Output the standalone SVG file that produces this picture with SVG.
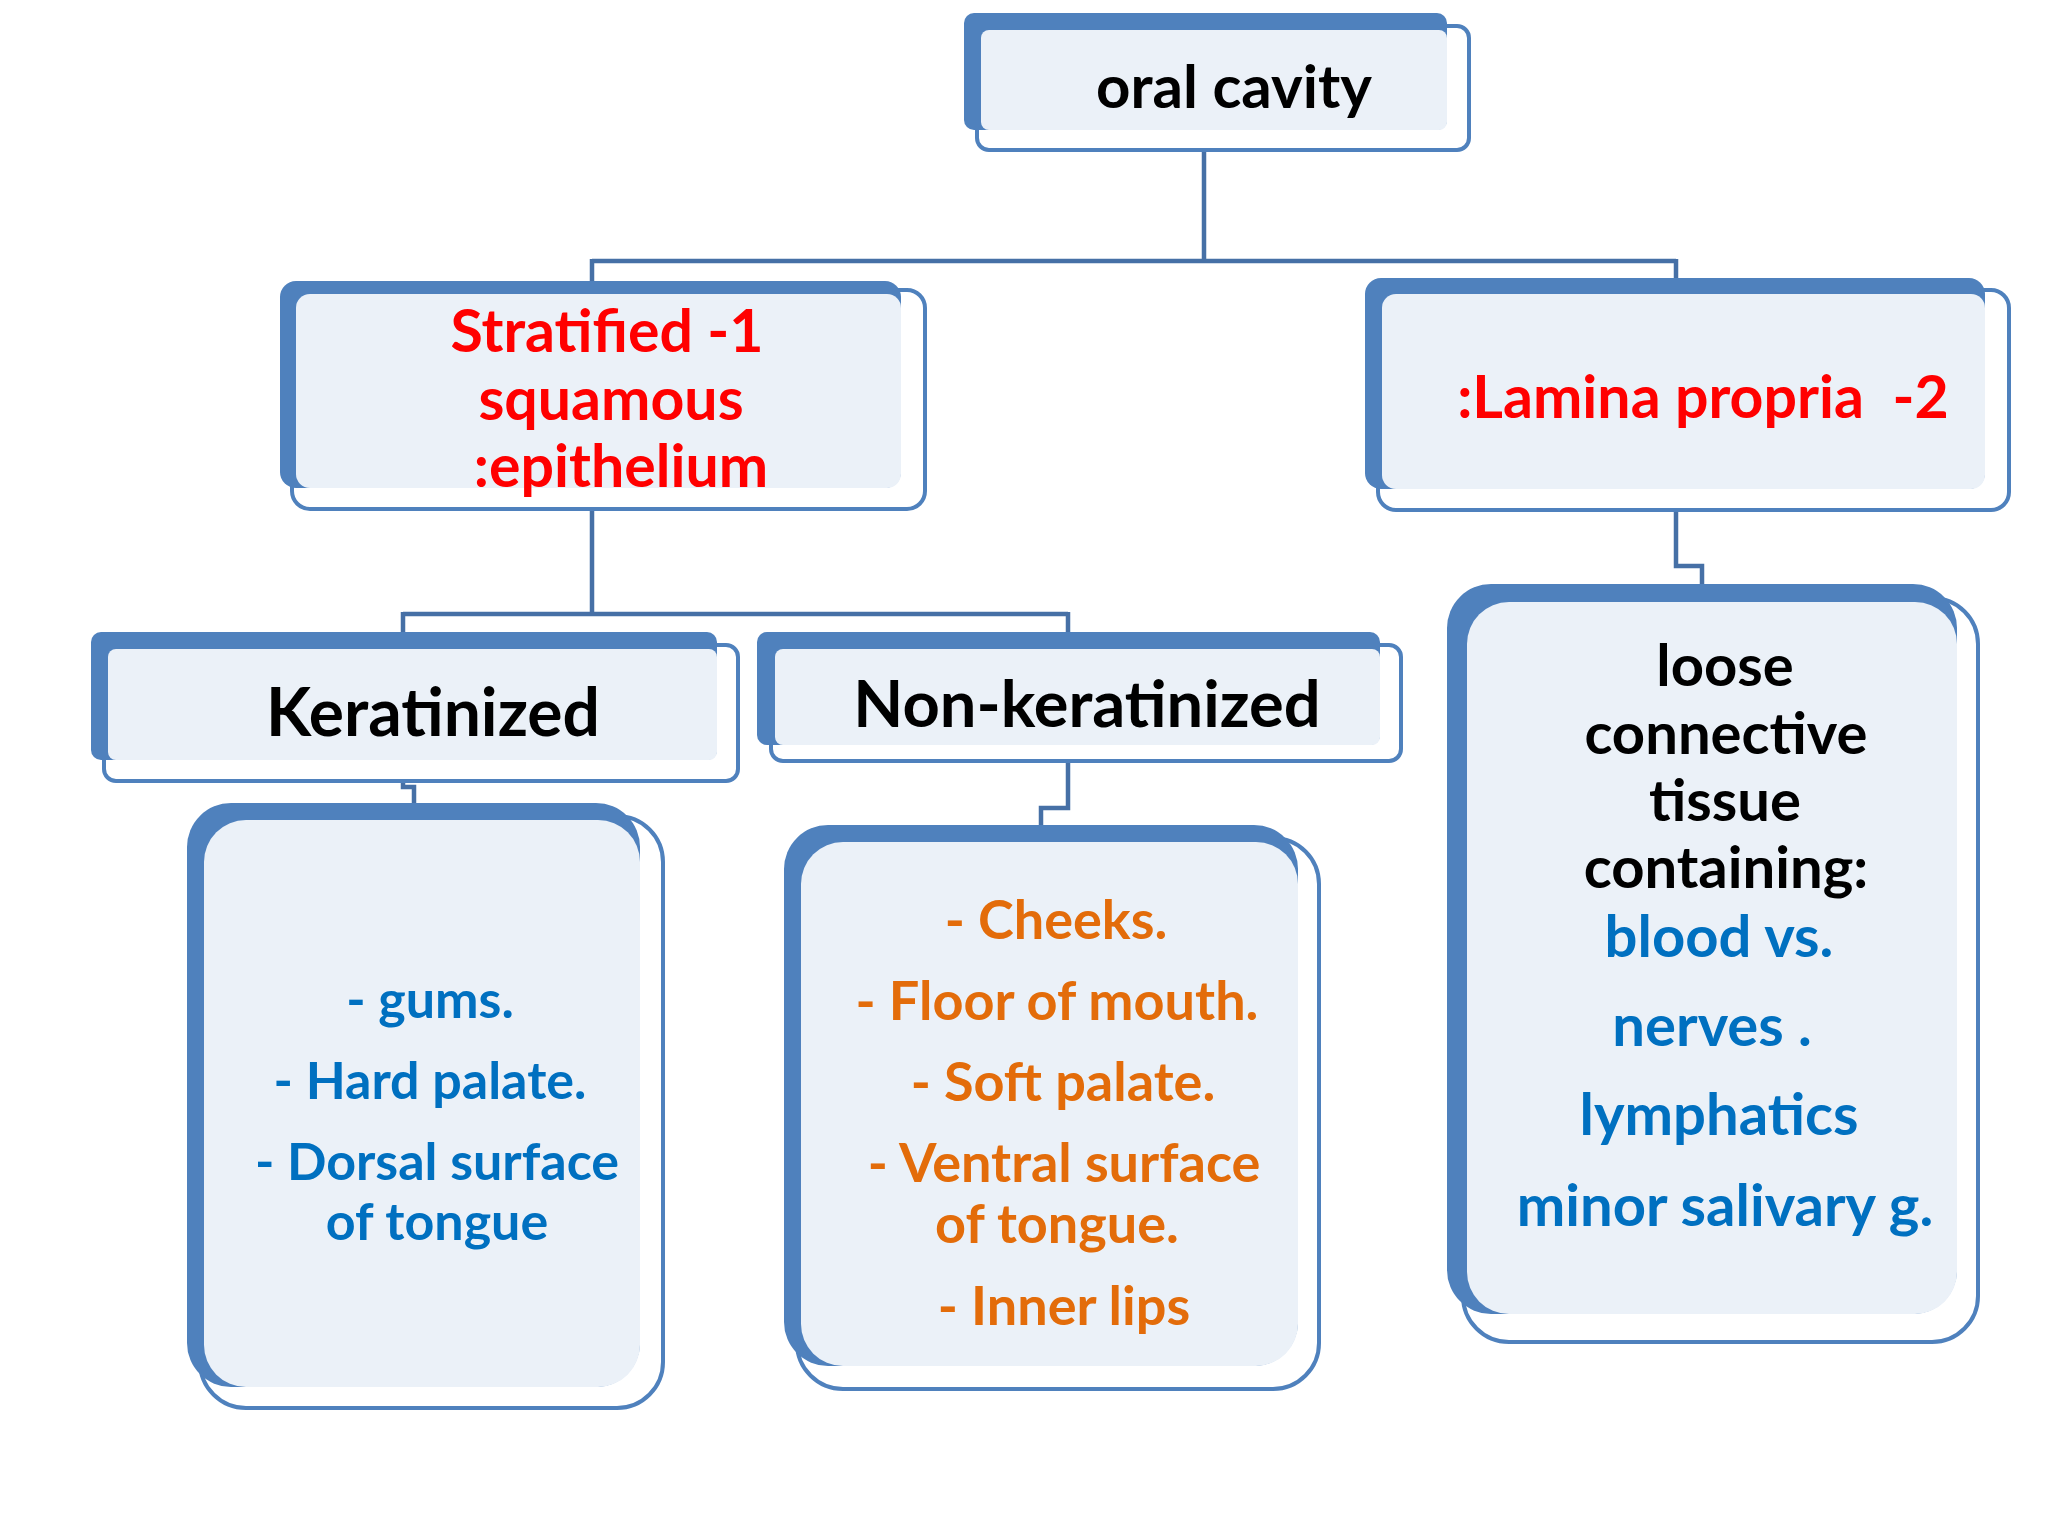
<svg xmlns="http://www.w3.org/2000/svg" width="2048" height="1536" viewBox="0 0 2048 1536">
<defs>
<style>
.bk{fill:#4F81BD}
.ol{fill:#FFFFFF;stroke:#4F81BD;stroke-width:4}
.lt{fill:#EBF1F8}
.cn{fill:none;stroke:#4670A6;stroke-width:4.5;stroke-linejoin:miter}
text{font-family:Lato,Carlito,"Liberation Sans",sans-serif;font-weight:bold;text-anchor:middle}
.red{fill:#FF0000;font-size:59px}
.blk{fill:#000000}
.blu{fill:#0070C0}
.org{fill:#E36C0A}
</style>
</defs>
<rect width="2048" height="1536" fill="#FFFFFF"/>
<g id="connectors">
<path class="cn" d="M1204 150 V261 M592 261 H1676 M592 259 V283 M1676 259 V280"/>
<path class="cn" d="M592 509 V614 M403 614 H1068 M403 612 V634 M1068 612 V634"/>
<path class="cn" d="M403 781 V787 H414 V805"/>
<path class="cn" d="M1068 761 V808 H1041 V827"/>
<path class="cn" d="M1676 509 V566 H1702 V586"/>
</g>
<g id="node-oral-cavity">
<rect class="ol" x="977" y="26" width="492" height="124" rx="12"/>
<rect class="bk" x="964" y="13" width="483" height="117" rx="10"/>
<rect class="lt" x="981" y="30" width="466" height="100" rx="8"/>
<text class="blk" x="1234" y="108" font-size="60">oral cavity</text>
</g>
<g id="node-stratified">
<rect class="ol" x="292" y="290" width="633" height="219" rx="18"/>
<rect class="bk" x="280" y="281" width="621" height="207" rx="16"/>
<rect class="lt" x="296" y="294" width="605" height="194" rx="14"/>
<text class="red" x="607" y="352">Stratified -1</text>
<text class="red" x="611" y="420">squamous</text>
<text class="red" x="621" y="487">:epithelium</text>
</g>
<g id="node-lamina-propria">
<rect class="ol" x="1378" y="290" width="631" height="220" rx="18"/>
<rect class="bk" x="1365" y="278" width="620" height="211" rx="16"/>
<rect class="lt" x="1382" y="294" width="603" height="195" rx="14"/>
<text class="red" x="1703" y="418" font-size="60" xml:space="preserve">:Lamina propria  -2</text>
</g>
<g id="node-keratinized">
<rect class="ol" x="104" y="645" width="634" height="136" rx="12"/>
<rect class="bk" x="91" y="632" width="626" height="128" rx="10"/>
<rect class="lt" x="108" y="649" width="609" height="111" rx="8"/>
<text class="blk" x="433" y="736" font-size="66">Keratinized</text>
</g>
<g id="node-non-keratinized">
<rect class="ol" x="771" y="645" width="630" height="116" rx="12"/>
<rect class="bk" x="757" y="632" width="623" height="113" rx="10"/>
<rect class="lt" x="775" y="649" width="605" height="96" rx="8"/>
<text class="blk" x="1087" y="727" font-size="65">Non-keratinized</text>
</g>
<g id="node-keratinized-sites">
<rect class="ol" x="200" y="816" width="463" height="592" rx="46"/>
<rect class="bk" x="187" y="803" width="453" height="584" rx="44"/>
<rect class="lt" x="204" y="820" width="436" height="567" rx="42"/>
<text class="blu" font-size="52" x="430" y="1018">- gums.</text>
<text class="blu" font-size="52" x="430" y="1099">- Hard palate.</text>
<text class="blu" font-size="52" x="437" y="1180">- Dorsal surface</text>
<text class="blu" font-size="52" x="437" y="1240">of tongue</text>
</g>
<g id="node-non-keratinized-sites">
<rect class="ol" x="797" y="838" width="522" height="551" rx="46"/>
<rect class="bk" x="784" y="825" width="514" height="541" rx="44"/>
<rect class="lt" x="801" y="842" width="497" height="524" rx="42"/>
<text class="org" font-size="54" x="1056" y="939">- Cheeks.</text>
<text class="org" font-size="54" x="1057" y="1020">- Floor of mouth.</text>
<text class="org" font-size="54" x="1063" y="1101">- Soft palate.</text>
<text class="org" font-size="54" x="1064" y="1182">- Ventral surface</text>
<text class="org" font-size="54" x="1057" y="1243">of tongue.</text>
<text class="org" font-size="54" x="1064" y="1325">- Inner lips</text>
</g>
<g id="node-loose-connective">
<rect class="ol" x="1463" y="598" width="515" height="744" rx="46"/>
<rect class="bk" x="1447" y="584" width="510" height="730" rx="44"/>
<rect class="lt" x="1467" y="602" width="490" height="712" rx="42"/>
<text class="blk" font-size="58" x="1725" y="686">loose</text>
<text class="blk" font-size="58" x="1726" y="754">connective</text>
<text class="blk" font-size="58" x="1725" y="821">tissue</text>
<text class="blk" font-size="58" x="1726" y="888">containing:</text>
<text class="blu" font-size="58" x="1719" y="957">blood vs.</text>
<text class="blu" font-size="58" x="1712" y="1046">nerves .</text>
<text class="blu" font-size="58" x="1719" y="1135">lymphatics</text>
<text class="blu" font-size="58" x="1725" y="1226">minor salivary g.</text>
</g>
</svg>
